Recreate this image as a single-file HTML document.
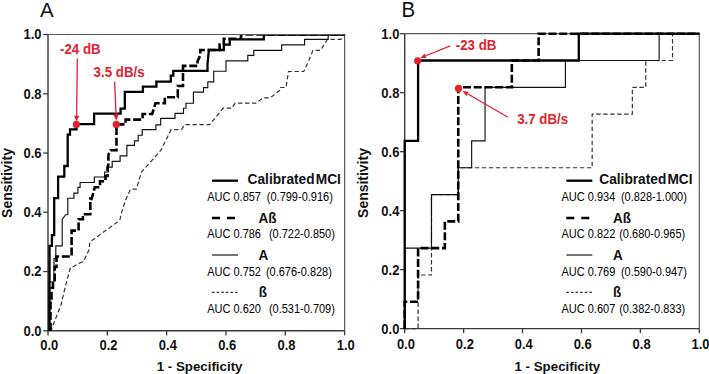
<!DOCTYPE html><html><head><meta charset="utf-8"><style>
html,body{margin:0;padding:0;background:#fff;width:709px;height:374px;overflow:hidden}
svg{display:block;font-family:"Liberation Sans", sans-serif}
.tk{font-size:13px;font-weight:bold;fill:#111}
.tt{font-size:13.3px;font-weight:bold;fill:#111}
.lg{font-size:13.5px;font-weight:bold;fill:#111}
.au{font-size:12px;fill:#000}
.rd{font-size:13.3px;font-weight:bold;fill:#e0222e}
.pl{font-size:20.5px;fill:#111}
</style></head><body>
<svg width="709" height="374" viewBox="0 0 709 374">
<text transform="translate(40.00 16.70) scale(1.0 1.03)" class="pl">A</text>
<text transform="translate(401.50 16.80) scale(1.0 1.05)" class="pl">B</text>
<path d="M48.0 34.5H344.6V330.8" fill="none" stroke="#5a5a5a" stroke-width="1.2"/>
<path d="M48.0 34.5V330.8H344.6" fill="none" stroke="#3a3a3a" stroke-width="1.4"/>
<path d="M43.2 330.80H48.0" stroke="#3a3a3a" stroke-width="1.3"/>
<path d="M48.00 330.8V335.40000000000003" stroke="#3a3a3a" stroke-width="1.3"/>
<text transform="translate(41.60 335.70) scale(1.0 1.1)" text-anchor="end" class="tk">0.0</text>
<text transform="translate(49.20 349.60) scale(1.0 1.1)" text-anchor="middle" class="tk">0.0</text>
<path d="M43.2 271.54H48.0" stroke="#3a3a3a" stroke-width="1.3"/>
<path d="M107.32 330.8V335.40000000000003" stroke="#3a3a3a" stroke-width="1.3"/>
<text transform="translate(41.60 276.44) scale(1.0 1.1)" text-anchor="end" class="tk">0.2</text>
<text transform="translate(108.52 349.60) scale(1.0 1.1)" text-anchor="middle" class="tk">0.2</text>
<path d="M43.2 212.28H48.0" stroke="#3a3a3a" stroke-width="1.3"/>
<path d="M166.64 330.8V335.40000000000003" stroke="#3a3a3a" stroke-width="1.3"/>
<text transform="translate(41.60 217.18) scale(1.0 1.1)" text-anchor="end" class="tk">0.4</text>
<text transform="translate(167.84 349.60) scale(1.0 1.1)" text-anchor="middle" class="tk">0.4</text>
<path d="M43.2 153.02H48.0" stroke="#3a3a3a" stroke-width="1.3"/>
<path d="M225.96 330.8V335.40000000000003" stroke="#3a3a3a" stroke-width="1.3"/>
<text transform="translate(41.60 157.92) scale(1.0 1.1)" text-anchor="end" class="tk">0.6</text>
<text transform="translate(227.16 349.60) scale(1.0 1.1)" text-anchor="middle" class="tk">0.6</text>
<path d="M43.2 93.76H48.0" stroke="#3a3a3a" stroke-width="1.3"/>
<path d="M285.28 330.8V335.40000000000003" stroke="#3a3a3a" stroke-width="1.3"/>
<text transform="translate(41.60 98.66) scale(1.0 1.1)" text-anchor="end" class="tk">0.8</text>
<text transform="translate(286.48 349.60) scale(1.0 1.1)" text-anchor="middle" class="tk">0.8</text>
<path d="M43.2 34.50H48.0" stroke="#3a3a3a" stroke-width="1.3"/>
<path d="M344.60 330.8V335.40000000000003" stroke="#3a3a3a" stroke-width="1.3"/>
<text transform="translate(41.60 39.40) scale(1.0 1.1)" text-anchor="end" class="tk">1.0</text>
<text transform="translate(345.80 349.60) scale(1.0 1.1)" text-anchor="middle" class="tk">1.0</text>
<path d="M404.7 33.7H699.3V328.6" fill="none" stroke="#5a5a5a" stroke-width="1.2"/>
<path d="M404.7 33.7V328.6H699.3" fill="none" stroke="#3a3a3a" stroke-width="1.4"/>
<path d="M399.9 328.60H404.7" stroke="#3a3a3a" stroke-width="1.3"/>
<path d="M404.70 328.6V333.20000000000005" stroke="#3a3a3a" stroke-width="1.3"/>
<text transform="translate(399.40 333.50) scale(1.0 1.1)" text-anchor="end" class="tk">0.0</text>
<text transform="translate(405.90 349.30) scale(1.0 1.1)" text-anchor="middle" class="tk">0.0</text>
<path d="M399.9 269.62H404.7" stroke="#3a3a3a" stroke-width="1.3"/>
<path d="M463.62 328.6V333.20000000000005" stroke="#3a3a3a" stroke-width="1.3"/>
<text transform="translate(399.40 274.52) scale(1.0 1.1)" text-anchor="end" class="tk">0.2</text>
<text transform="translate(464.82 349.30) scale(1.0 1.1)" text-anchor="middle" class="tk">0.2</text>
<path d="M399.9 210.64H404.7" stroke="#3a3a3a" stroke-width="1.3"/>
<path d="M522.54 328.6V333.20000000000005" stroke="#3a3a3a" stroke-width="1.3"/>
<text transform="translate(399.40 215.54) scale(1.0 1.1)" text-anchor="end" class="tk">0.4</text>
<text transform="translate(523.74 349.30) scale(1.0 1.1)" text-anchor="middle" class="tk">0.4</text>
<path d="M399.9 151.66H404.7" stroke="#3a3a3a" stroke-width="1.3"/>
<path d="M581.46 328.6V333.20000000000005" stroke="#3a3a3a" stroke-width="1.3"/>
<text transform="translate(399.40 156.56) scale(1.0 1.1)" text-anchor="end" class="tk">0.6</text>
<text transform="translate(582.66 349.30) scale(1.0 1.1)" text-anchor="middle" class="tk">0.6</text>
<path d="M399.9 92.68H404.7" stroke="#3a3a3a" stroke-width="1.3"/>
<path d="M640.38 328.6V333.20000000000005" stroke="#3a3a3a" stroke-width="1.3"/>
<text transform="translate(399.40 97.58) scale(1.0 1.1)" text-anchor="end" class="tk">0.8</text>
<text transform="translate(641.58 349.30) scale(1.0 1.1)" text-anchor="middle" class="tk">0.8</text>
<path d="M399.9 33.70H404.7" stroke="#3a3a3a" stroke-width="1.3"/>
<path d="M699.30 328.6V333.20000000000005" stroke="#3a3a3a" stroke-width="1.3"/>
<text transform="translate(399.40 38.60) scale(1.0 1.1)" text-anchor="end" class="tk">1.0</text>
<text transform="translate(700.50 349.30) scale(1.0 1.1)" text-anchor="middle" class="tk">1.0</text>
<text transform="translate(199.60 370.60) scale(1.0 1.03)" text-anchor="middle" class="tt">1 - Specificity</text>
<text transform="translate(557.40 370.60) scale(1.0 1.03)" text-anchor="middle" class="tt">1 - Specificity</text>
<text transform="translate(11.8 183) rotate(-90) scale(1.05 1.05)" text-anchor="middle" class="tt">Sensitivity</text>
<text transform="translate(368.2 183) rotate(-90) scale(1.05 1.05)" text-anchor="middle" class="tt">Sensitivity</text>
<defs><clipPath id="ca"><rect x="40" y="34.6" width="310" height="300"/></clipPath></defs><g clip-path="url(#ca)">
<path d="M49 330.8L51.5 329L61 305L64 292L67.1 280L69.4 271L70.8 267H72.8L78.1 263.7L83.5 261.4L89 250L89.9 242L119.8 220.3L122 211.1L125.4 200.6L130.5 189.1H136.4L141.4 172.1L160.7 150.5L171.1 129.6H181.5L184.7 124.6H209.7L223.2 108.2H231.7L235.1 103.2H255.9L263.5 97.8H270.2L279.6 90.5L280 87.5H286L288.5 71.5H303.7L308.8 60.5L313 50.3H320.6L327.4 39.3H341L342.6 34.5" fill="none" stroke="#333" stroke-width="1.2" stroke-dasharray="4.4 2.6"/>
<path d="M49 330.8V282H54V258.5H55.8V245.8H62.2V219.5L65.6 214.7H67.8V198.2H73.9V193.1H77.9V187.4H80.1V182.5H94.3V177H104.7V172H108.3V167.1H112.2V161.4H120.1V155.8H126.9V145.3H134.5V140.9H138.2V135.2H142.2V129.6H155.9V124.8H160.7V118.4H175V113.3H183.5V108.2H186V103.2H193.4V92.1H203.5V87.6H207.8V81.9H213.7V71.2H226V60.8H247.8V55.4H253.8V50.3H281.7V44.9H304.6V39.3H328.2V34.5H344.5" fill="none" stroke="#111" stroke-width="1.15"/>
<path d="M50.5 330.8V300H51.5V288H53V283H54.7V267H56.5V256.5H71.6V230.6H78.6V219.3H82.9V214.2H90.3V198.7L91.5 199L92.5 196L94.8 187.2H100V181.2H105.5V176H107.5V168L108.4 164V154.7L110.5 150.2H116.5V124.4H125.6V119.6H142.6V114H152.2L155.5 103.2H164.8V97.2H177.8V86H183V65.9H197.6V61L200.3 55.4V50H219.6V44.5H223.8V38.8H241V34.5H344.5" fill="none" stroke="#000" stroke-width="2.6" stroke-dasharray="8 2.7"/>
<path d="M49.5 330.8V245.8H51.9V235.1H54.2V198.2H58.1V176.7H64.3V166H67.7V134.7H70V129.3H76.5V124.2H94.1V113.7H120.6V108.6H124.8V91.8H142.9V86.7H156.4V81.6H170.8V75.7H173.3V70.9H207.5V64L208.9 50H223.8V44.7H229.7V39.3H263.8V34.5H344.5" fill="none" stroke="#000" stroke-width="2.3"/>
</g>
<path d="M48.0 34.5H344.6" fill="none" stroke="#5a5a5a" stroke-width="1.2"/>
<path d="M404.70 328.60L418.09 328.60L418.09 274.98L431.48 274.98L431.48 194.55L458.26 194.55L458.26 167.75L592.17 167.75L592.17 114.13L632.35 114.13L632.35 87.32L645.74 87.32L645.74 60.51L672.52 60.51L672.52 33.70L699.30 33.70" fill="none" stroke="#333" stroke-width="1.2" stroke-dasharray="4.4 2.6"/>
<path d="M404.70 328.60L404.70 248.17L431.48 248.17L431.48 194.55L458.26 194.55L458.26 167.75L471.65 167.75L471.65 140.94L485.05 140.94L485.05 87.32L565.39 87.32L565.39 60.51L659.13 60.51L659.13 33.70L699.30 33.70" fill="none" stroke="#111" stroke-width="1.15"/>
<path d="M404.70 328.60L404.70 301.79L418.09 301.79L418.09 248.17L444.87 248.17L444.87 221.36L458.26 221.36L458.26 87.32L511.83 87.32L511.83 60.51L538.61 60.51L538.61 33.70L699.30 33.70" fill="none" stroke="#000" stroke-width="2.6" stroke-dasharray="8 2.7"/>
<path d="M404.70 328.60L404.70 140.94L418.09 140.94L418.09 60.51L578.78 60.51L578.78 33.70L699.30 33.70" fill="none" stroke="#000" stroke-width="2.3"/>
<path d="M212 180.7H238" stroke="#000" stroke-width="2.3"/>
<path d="M212 217.9H220M227 217.9H235" stroke="#000" stroke-width="2.5"/>
<path d="M212 255H238" stroke="#111" stroke-width="1.15"/>
<path d="M212 292.4H238" stroke="#333" stroke-width="1.2" stroke-dasharray="2.6 2"/>
<text transform="translate(247.60 184.20) scale(1.015 1.05)" class="lg" word-spacing="-2.6">Calibrated MCI</text>
<text transform="translate(258.60 222.50) scale(1.0 1.1)" class="lg">A&#223;</text>
<text transform="translate(258.60 259.70) scale(1.0 1.1)" class="lg">A</text>
<text transform="translate(258.80 297.30) scale(1.0 1.1)" class="lg">&#223;</text>
<text transform="translate(207.20 200.90) scale(0.917 1.0)" class="au">AUC 0.857</text>
<text transform="translate(266.80 200.90) scale(0.917 1.0)" class="au">(0.799-0.916)</text>
<text transform="translate(207.20 238.30) scale(0.917 1.0)" class="au">AUC 0.786</text>
<text transform="translate(268.90 238.30) scale(0.917 1.0)" class="au">(0.722-0.850)</text>
<text transform="translate(207.20 276.00) scale(0.917 1.0)" class="au">AUC 0.752</text>
<text transform="translate(265.90 276.00) scale(0.917 1.0)" class="au">(0.676-0.828)</text>
<text transform="translate(207.20 312.80) scale(0.917 1.0)" class="au">AUC 0.620</text>
<text transform="translate(268.90 312.80) scale(0.917 1.0)" class="au">(0.531-0.709)</text>
<path d="M566.3 180.7H592.3" stroke="#000" stroke-width="2.3"/>
<path d="M566.3 217.9H574.3M581.3 217.9H589.3" stroke="#000" stroke-width="2.5"/>
<path d="M566.3 255H592.3" stroke="#111" stroke-width="1.15"/>
<path d="M566.3 292.4H592.3" stroke="#333" stroke-width="1.2" stroke-dasharray="2.6 2"/>
<text transform="translate(599.30 184.20) scale(1.015 1.05)" class="lg" word-spacing="-2.6">Calibrated MCI</text>
<text transform="translate(612.90 222.50) scale(1.0 1.1)" class="lg">A&#223;</text>
<text transform="translate(612.90 259.70) scale(1.0 1.1)" class="lg">A</text>
<text transform="translate(613.10 297.30) scale(1.0 1.1)" class="lg">&#223;</text>
<text transform="translate(561.50 200.90) scale(0.917 1.0)" class="au">AUC 0.934</text>
<text transform="translate(620.90 200.90) scale(0.917 1.0)" class="au">(0.828-1.000)</text>
<text transform="translate(561.50 238.30) scale(0.917 1.0)" class="au">AUC 0.822</text>
<text transform="translate(619.20 238.30) scale(0.917 1.0)" class="au">(0.680-0.965)</text>
<text transform="translate(561.50 276.00) scale(0.917 1.0)" class="au">AUC 0.769</text>
<text transform="translate(620.90 276.00) scale(0.917 1.0)" class="au">(0.590-0.947)</text>
<text transform="translate(561.50 312.80) scale(0.917 1.0)" class="au">AUC 0.607</text>
<text transform="translate(619.20 312.80) scale(0.917 1.0)" class="au">(0.382-0.833)</text>
<path d="M77.30 58.50L76.66 115.80" stroke="#e0222e" stroke-width="1.3"/>
<path d="M76.60 121.60L73.96 115.77L79.36 115.83Z" fill="#e0222e"/>
<path d="M114.60 81.80L116.05 114.81" stroke="#e0222e" stroke-width="1.3"/>
<path d="M116.30 120.60L113.35 114.92L118.74 114.69Z" fill="#e0222e"/>
<circle cx="76.4" cy="124.4" r="3.6" fill="#e0222e"/>
<circle cx="116.3" cy="124.4" r="3.6" fill="#e0222e"/>
<text transform="translate(60.00 54.00) scale(1.0 1.1)" class="rd">-24 dB</text>
<text transform="translate(93.60 77.00) scale(1.0 1.1)" class="rd">3.5 dB/s</text>
<path d="M450.30 45.80L425.68 55.73" stroke="#e0222e" stroke-width="1.3"/>
<path d="M420.30 57.90L424.78 53.50L426.58 57.96Z" fill="#e0222e"/>
<path d="M508.00 117.30L467.52 93.81" stroke="#e0222e" stroke-width="1.3"/>
<path d="M462.50 90.90L468.72 91.73L466.31 95.89Z" fill="#e0222e"/>
<circle cx="417.6" cy="60.8" r="3.6" fill="#e0222e"/>
<circle cx="458.5" cy="88.4" r="3.6" fill="#e0222e"/>
<text transform="translate(455.80 49.90) scale(1.0 1.1)" class="rd">-23 dB</text>
<text transform="translate(517.20 124.40) scale(1.0 1.1)" class="rd">3.7 dB/s</text>
</svg></body></html>
